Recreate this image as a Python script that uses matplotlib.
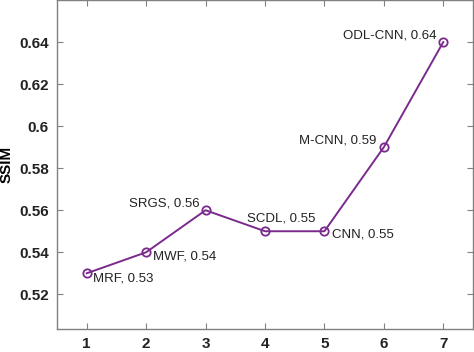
import matplotlib
matplotlib.use("Agg")
import matplotlib.pyplot as plt

plt.rcParams['font.family'] = ['Liberation Sans', 'DejaVu Sans']

# data
x = [1, 2, 3, 4, 5, 6, 7]
ssim = [0.53, 0.54, 0.56, 0.55, 0.55, 0.59, 0.64]
names = ["MRF", "MWF", "SRGS", "SCDL", "CNN", "M-CNN", "ODL-CNN"]

# label placement (pixel offsets, alignment)
offsets = [(6, -5, 'left'), (7, -4, 'left'), (-6, 7, 'right'), (16, 13, 'center'),
           (8, -3, 'left'), (-7, 7, 'right'), (-7, 7, 'right')]

purple = '#7a2a8c'
gray = '#808080'

fig = plt.figure(figsize=(4.74, 3.52), dpi=100)
ax = fig.add_axes([57/474, 23/352, 416/474, 329/352])  # x,y, lenght, height

ax.plot(x, ssim, color=purple, linewidth=1.4, marker='o', markersize=6,
        markerfacecolor='none', markeredgecolor=purple, markeredgewidth=1.3)

for xi, yi, n, (dx, dy, ha) in zip(x, ssim, names, offsets):
    ax.annotate(n + ", " + ("%.2f" % yi), (xi, yi), xytext=(dx, dy),
                textcoords='offset pixels', ha=ha, va='center', fontsize=9.5,
                color='#222222')

ax.set_xlim(0.5, 7.5)
ax.set_ylim(0.5035, 0.66)
ax.set_xticks(x)
ax.set_yticks([0.52, 0.54, 0.56, 0.58, 0.6, 0.62, 0.64])
ax.set_yticklabels(["0.52", "0.54", "0.56", "0.58", "0.6", "0.62", "0.64"])
ax.set_ylabel("SSIM", fontsize=11, fontweight='bold', labelpad=4)

ax.tick_params(direction='in', top=True, right=True, length=4, color=gray,
               labelsize=11, labelcolor='#222222', pad=6)
for lab in ax.get_xticklabels() + ax.get_yticklabels():
    lab.set_fontweight('bold')
for s in ax.spines.values():
    s.set_color(gray)
    s.set_linewidth(1.0)

fig.savefig("out.png", dpi=100)
